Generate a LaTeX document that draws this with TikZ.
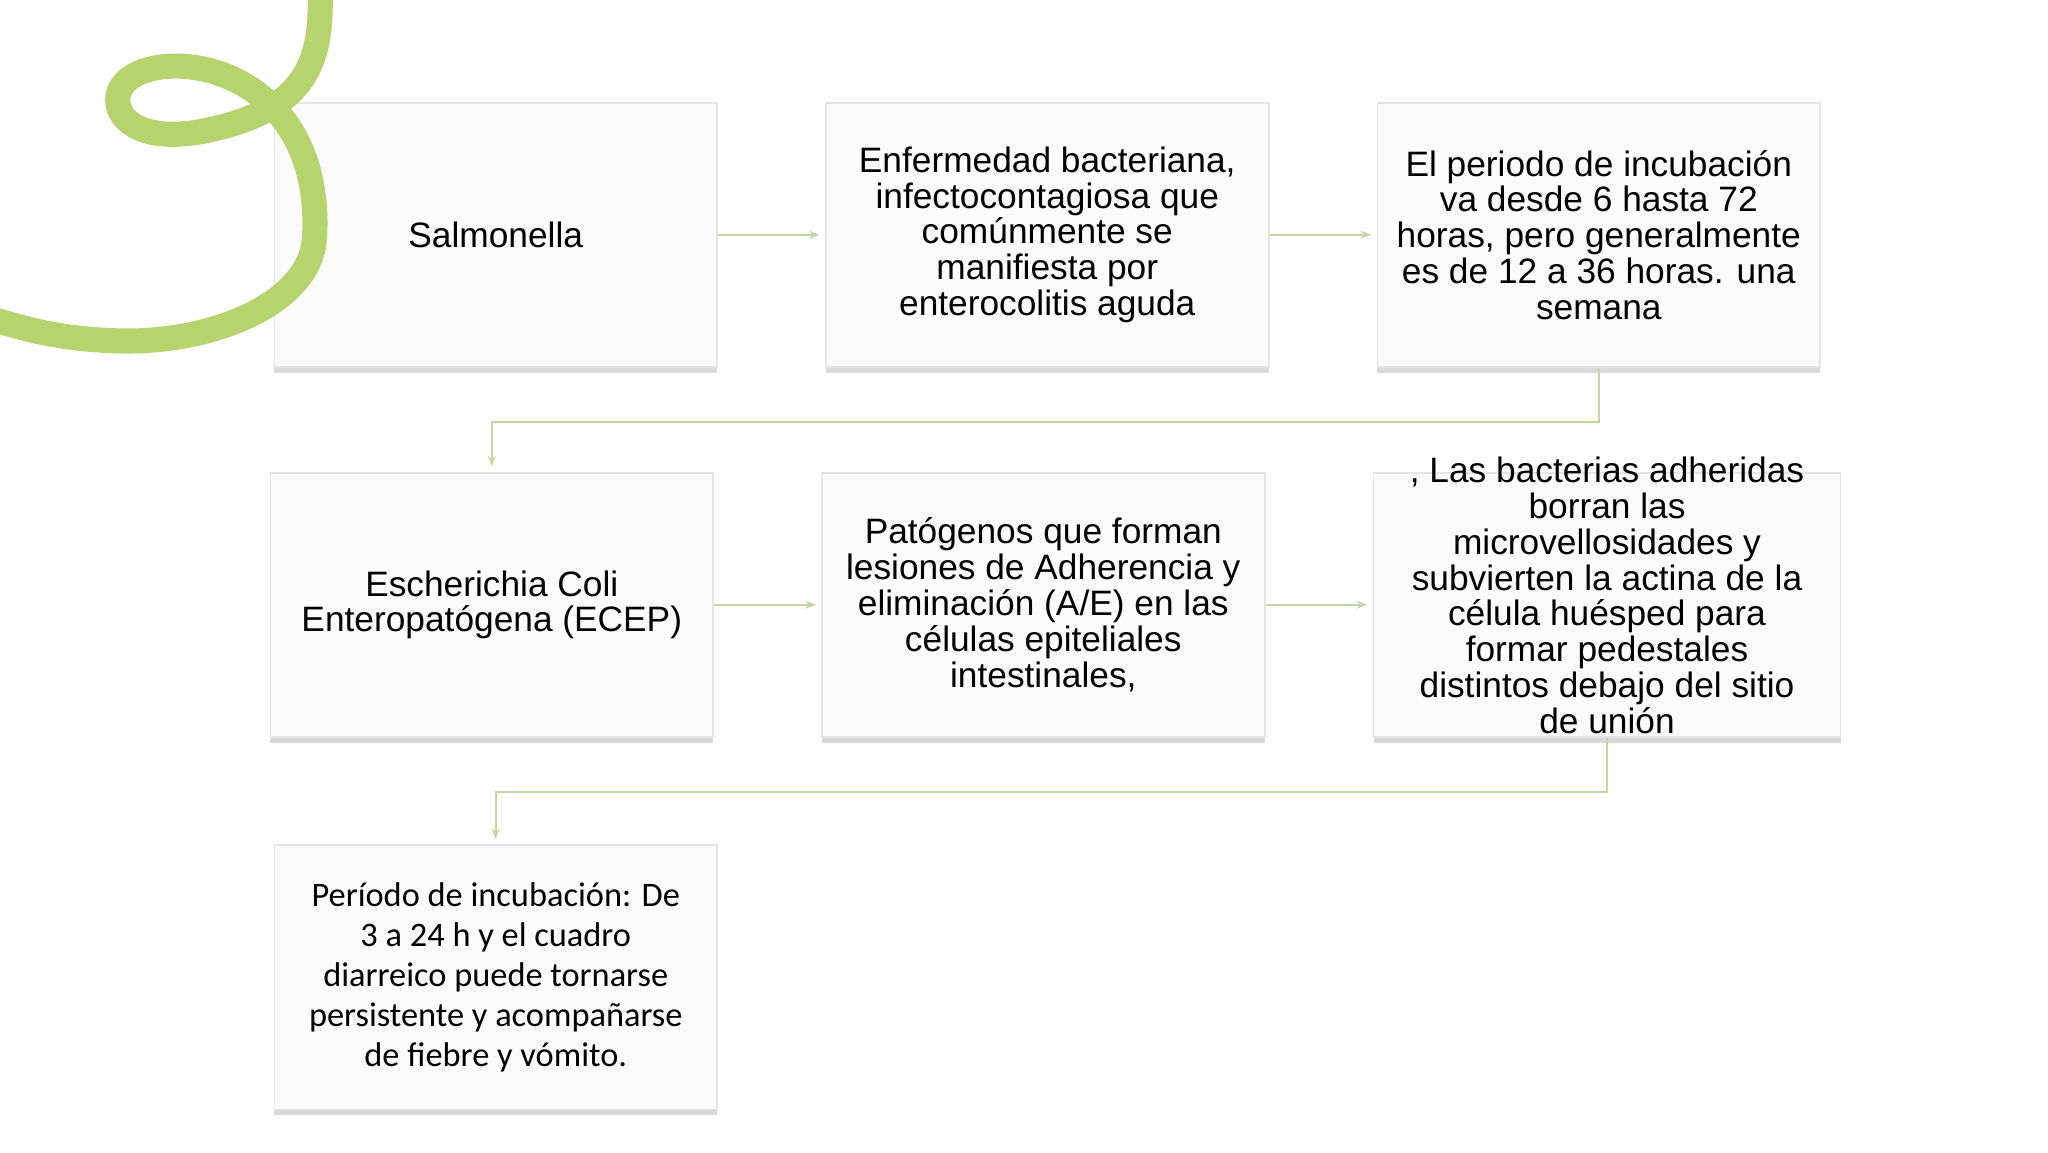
\documentclass[tikz,border=0pt]{standalone}
\usepackage{fontspec}
\setmainfont{Liberation Sans}
\newfontfamily\calibrifont{Carlito}
\usetikzlibrary{positioning, arrows.meta, shadows}

\definecolor{leafgreen}{HTML}{B6D46E}
\definecolor{linkgreen}{HTML}{C5D6A2}

\tikzset{
  infobox/.style={draw=gray!20, fill=gray!3, rectangle, minimum height=2cm, minimum width=3.35cm,
    align=center, font=\fontsize{7.6}{7.7}\selectfont,
    drop shadow={shadow xshift=0pt, shadow yshift=-0.45mm, fill=gray!30, opacity=1}},
  link/.style={draw=linkgreen, line width=0.35pt, -{Stealth[length=0.8mm, width=0.6mm]}, shorten >=0.4mm}
}

\begin{document}
\begin{tikzpicture}[node distance=0.81cm]
        \useasboundingbox (0,0) rectangle (15.5,-8.72);
        \node[infobox, anchor=north west] (salmonella) at (2.07,-0.77) {Salmonella};
        \node[infobox, right=of salmonella] (enfermedad) {Enfermedad bacteriana,\\ infectocontagiosa que\\ comúnmente se\\ manifiesta por\\ enterocolitis aguda};
        \node[infobox, right=of enfermedad] (incubacion) {El periodo de incubación\\ va desde 6 hasta 72\\ horas, pero generalmente\\ es de 12 a 36 horas. una\\ semana};
        \node[infobox, anchor=north west] (ecoli) at (2.04,-3.57) {Escherichia Coli\\ Enteropatógena (ECEP)};
        \node[infobox, right=of ecoli] (patogenos) {Patógenos que forman\\ lesiones de Adherencia y\\ eliminación (A/E) en las\\ células epiteliales\\ intestinales,};
        \node[infobox, right=of patogenos] (bacterias) {\raisebox{0pt}[0pt][0pt]{\parbox[c]{3.3cm}{\centering , Las bacterias adheridas\\ borran las\\ microvellosidades y\\ subvierten la actina de la\\ célula huésped para\\ formar pedestales\\ distintos debajo del sitio\\ de unión}}};
        \node[infobox, anchor=north west, font=\calibrifont\fontsize{7.4}{8.6}\selectfont] (periodo) at (2.07,-6.39) {Período de incubación: De\\ 3 a 24 h y el cuadro\\ diarreico puede tornarse\\ persistente y acompañarse\\ de fiebre y vómito.};

        \draw[link] (salmonella) -- (enfermedad);
        \draw[link] (enfermedad) -- (incubacion);
        \draw[link] (incubacion.south) -- ++(0,-0.41) -| (ecoli.north);
        \draw[link] (ecoli) -- (patogenos);
        \draw[link] (patogenos) -- (bacterias);
        \draw[link] (bacterias.south) -- ++(0,-0.41) -| (periodo.north);

        % green ribbon
        \draw[leafgreen, line width=1.9mm] (2.42,0.1) .. controls (2.45,-0.5) and (2.3,-0.85) .. (1.5,-1.0)
            .. controls (1.0,-1.08) and (0.85,-0.85) .. (0.9,-0.7)
            .. controls (0.98,-0.45) and (1.6,-0.4) .. (2.0,-0.75)
            .. controls (2.35,-1.05) and (2.4,-1.5) .. (2.38,-1.8)
            .. controls (2.35,-2.3) and (1.6,-2.6) .. (0.9,-2.58)
            .. controls (0.5,-2.57) and (0.2,-2.5) .. (-0.1,-2.4);
    \end{tikzpicture}
\end{document}
